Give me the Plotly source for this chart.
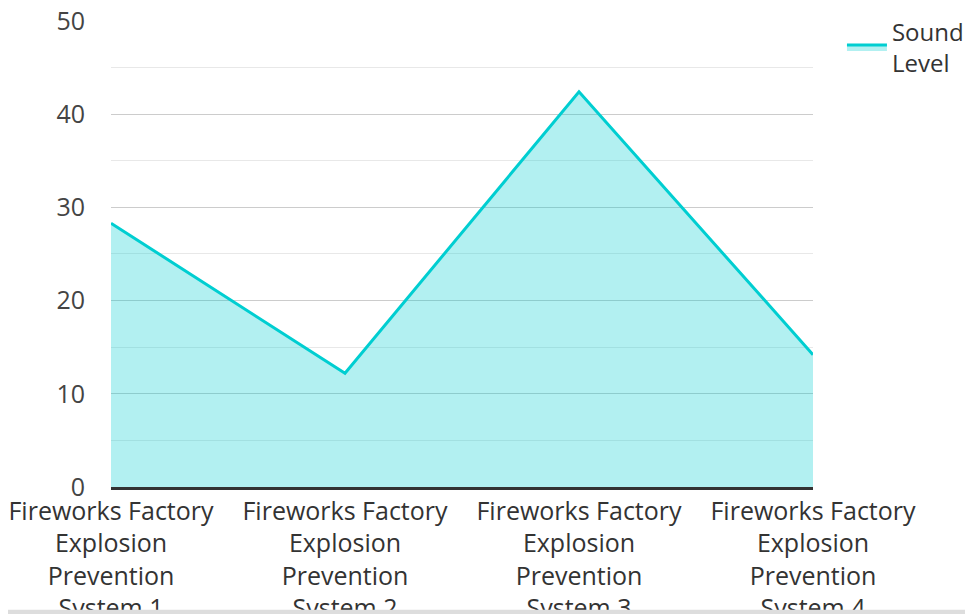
import plotly.graph_objects as go

categories = [
    "Fireworks Factory<br>Explosion<br>Prevention<br>System 1",
    "Fireworks Factory<br>Explosion<br>Prevention<br>System 2",
    "Fireworks Factory<br>Explosion<br>Prevention<br>System 3",
    "Fireworks Factory<br>Explosion<br>Prevention<br>System 4",
]
sound_level = [28.3, 12.2, 42.4, 14.2]
series_name = "Sound<br>Level"
y_ticks = [0, 10, 20, 30, 40, 50]

fig = go.Figure()
fig.add_trace(go.Scatter(
    x=categories, y=sound_level, name=series_name, mode="lines",
    line=dict(color="#00CED1", width=3),
    fill="tozeroy", fillcolor="rgba(0,206,209,0.3)",
))

fig.update_layout(
    width=973, height=606,
    margin=dict(l=103, r=168, t=12, b=127),
    paper_bgcolor="white", plot_bgcolor="white",
    font=dict(family="Open Sans", size=25, color="#444"),
    showlegend=True,
    legend=dict(xref="container", yref="container", x=0.8571, y=0.998,
                xanchor="left", yanchor="top", itemwidth=40,
                font=dict(size=24, color="#333"), bgcolor="rgba(0,0,0,0)"),
    xaxis=dict(type="category", range=[0, 3], showgrid=False, automargin=False,
               showline=True, linecolor="#333", linewidth=2.5, layer="above traces",
               ticks="", tickfont=dict(color="#333"), ticklabeloverflow="allow"),
    yaxis=dict(range=[0, 50.1], tickvals=y_ticks, showgrid=True, gridcolor="#cccccc",
               gridwidth=1, zeroline=False, ticks="", ticklabelstandoff=25,
               automargin=False, ticklabeloverflow="allow",
               minor=dict(dtick=5, showgrid=True, gridcolor="#e8e8e8", gridwidth=1)),
    shapes=[dict(type="rect", xref="paper", yref="paper",
                 x0=-0.2, x1=1.3, y0=-0.263, y1=-0.29,
                 fillcolor="#dddddd", line=dict(width=0), layer="above")],
)

fig.write_html("out.html")
